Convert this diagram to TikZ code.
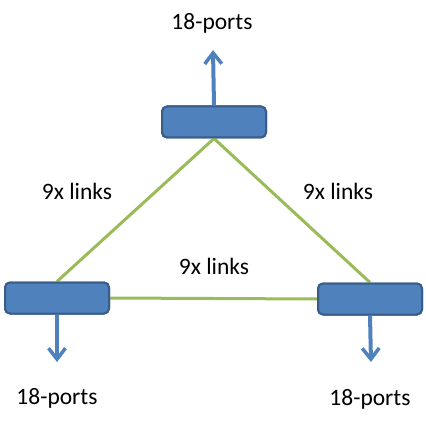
\documentclass[tikz,border=0pt]{standalone}
\usepackage{fontspec}
\setmainfont{Carlito}
\usetikzlibrary{arrows.meta,positioning}
\definecolor{boxblue}{HTML}{4F81BD}
\definecolor{boxedge}{HTML}{385D8A}
\definecolor{linkgreen}{HTML}{9BBB59}
\tikzset{
  switchbox/.style={draw=boxedge,fill=boxblue,line width=2pt,rounded corners=5pt,
    minimum width=104pt,minimum height=31pt,inner sep=0pt},
  portarrow/.style={draw=boxblue,line width=4pt,-{Straight Barb[length=11pt,width=17pt,line width=3.5pt]}},
  link/.style={draw=linkgreen,line width=3pt},
  lbl/.style={font=\fontsize{23.5}{28}\selectfont,inner sep=0pt}
}
\begin{document}
\begin{tikzpicture}[x=1pt,y=-1pt]
\useasboundingbox (0,0) rectangle (426,425);
\coordinate (Ttip) at (213,50);
\coordinate (Ltip) at (57,362);
\coordinate (Rtip) at (371,362);
% links between switches
\node[switchbox] (T) at (214,122) {};
\node[switchbox] (L) at (57,298) {};
\node[switchbox] (R) at (370,299) {};
\draw[link] (T.south) -- (L.north);
\draw[link] (T.south) -- (R.north);
\draw[link] (L.east) -- (R.west);
\node[switchbox] at (T) {};
\node[switchbox] at (L) {};
\node[switchbox] at (R) {};
% ports
\draw[portarrow] (T.north) -- (Ttip);
\draw[portarrow] (L.south) -- (Ltip);
\draw[portarrow] (R.south) -- (Rtip);
\node[lbl] (Tport) at (212,23) {18-ports};
\node[lbl] (Lport) at (57,398) {18-ports};
\node[lbl] (Rport) at (370,399) {18-ports};
\node[lbl] (Llink) at (77,191) {9x links};
\node[lbl] (Rlink) at (338,191) {9x links};
\node[lbl] (Mlink) at (214,266) {9x links};
\end{tikzpicture}
\end{document}
